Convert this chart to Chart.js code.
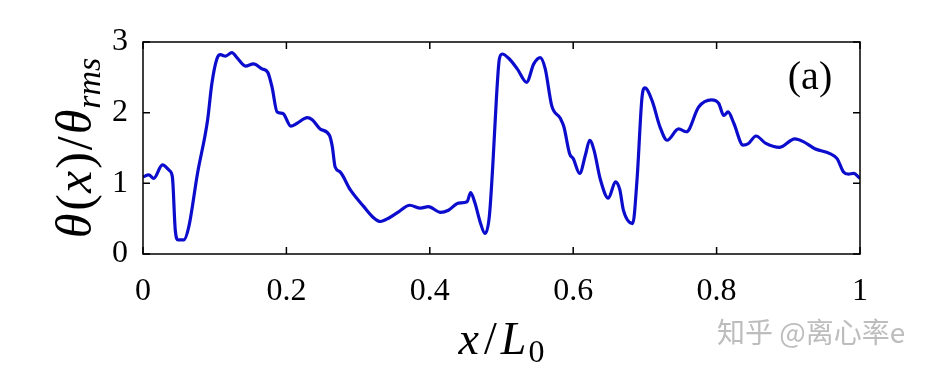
<!DOCTYPE html>
<html>
<head>
<meta charset="utf-8">
<script src="https://cdn.jsdelivr.net/npm/chart.js@4.4.1/dist/chart.umd.min.js"></script>
<style>
  html, body { margin: 0; padding: 0; background: #fff; }
  #wrap { width: 930px; height: 370px; }
</style>
</head>
<body>
<div id="wrap"><canvas id="thetaChart"></canvas></div>
<script>
// x/L0 positions and theta(x)/theta_rms values
const xPos = [
  0.000, 0.008, 0.015, 0.027, 0.037, 0.041, 0.045, 0.049, 0.057, 0.064,
  0.076, 0.090, 0.096, 0.103, 0.108, 0.115, 0.124, 0.131, 0.143, 0.154,
  0.166, 0.174, 0.180, 0.187, 0.195, 0.206, 0.215, 0.229, 0.236, 0.247,
  0.260, 0.264, 0.268, 0.275, 0.289, 0.308, 0.322, 0.331, 0.343, 0.357,
  0.372, 0.387, 0.398, 0.415, 0.426, 0.440, 0.452, 0.457, 0.463, 0.470,
  0.477, 0.483, 0.488, 0.493, 0.497, 0.501, 0.510, 0.522, 0.535, 0.545,
  0.554, 0.561, 0.570, 0.582, 0.587, 0.595, 0.600, 0.609, 0.617, 0.623,
  0.629, 0.638, 0.649, 0.659, 0.665, 0.670, 0.683, 0.689, 0.696, 0.700,
  0.710, 0.721, 0.731, 0.747, 0.758, 0.775, 0.793, 0.803, 0.810, 0.816,
  0.824, 0.837, 0.844, 0.855, 0.868, 0.888, 0.909, 0.921, 0.937, 0.958,
  0.968, 0.977, 0.984, 0.991, 1.000
];
const thetaRatio = [
  1.09, 1.12, 1.07, 1.26, 1.18, 1.09, 0.34, 0.20, 0.20, 0.39,
  1.14, 1.89, 2.41, 2.76, 2.82, 2.80, 2.85, 2.78, 2.66, 2.69,
  2.62, 2.57, 2.36, 2.01, 1.99, 1.81, 1.85, 1.93, 1.90, 1.77,
  1.68, 1.52, 1.23, 1.16, 0.91, 0.67, 0.51, 0.46, 0.51, 0.60,
  0.69, 0.65, 0.67, 0.59, 0.62, 0.72, 0.74, 0.87, 0.72, 0.46,
  0.29, 0.53, 1.28, 2.22, 2.76, 2.83, 2.77, 2.62, 2.43, 2.69,
  2.78, 2.62, 2.10, 1.92, 1.80, 1.42, 1.35, 1.14, 1.40, 1.61,
  1.47, 1.05, 0.79, 1.02, 0.91, 0.62, 0.43, 1.05, 2.22, 2.35,
  2.17, 1.80, 1.61, 1.77, 1.73, 2.08, 2.18, 2.13, 1.96, 2.01,
  1.85, 1.54, 1.56, 1.67, 1.57, 1.51, 1.63, 1.59, 1.49, 1.42,
  1.35, 1.16, 1.13, 1.14, 1.07
];
const xTicks = [0, 0.2, 0.4, 0.6, 0.8, 1];
const yTicks = [0, 1, 2, 3];
const panelLabel = "(a)";
const watermark = "知乎 @离心率e";

const SERIF = "'Liberation Serif', 'Times New Roman', serif";

// draw a run of text pieces [text, italic, size, dy, gap] starting at x
function drawRun(ctx, parts, x, y) {
  parts.forEach(p => {
    ctx.font = (p[1] ? "italic " : "") + p[2] + "px " + SERIF;
    ctx.fillText(p[0], x, y + (p[3] || 0));
    x += ctx.measureText(p[0]).width + (p[4] || 0);
  });
}
function runWidth(ctx, parts) {
  let w = 0;
  parts.forEach(p => {
    ctx.font = (p[1] ? "italic " : "") + p[2] + "px " + SERIF;
    w += ctx.measureText(p[0]).width + (p[4] || 0);
  });
  return w;
}

const framePlugin = {
  id: "frame",
  afterDraw(chart) {
    const ctx = chart.ctx;
    const a = chart.chartArea;
    const xs = chart.scales.x, ys = chart.scales.y;
    ctx.save();
    ctx.strokeStyle = "#000";
    ctx.lineWidth = 1.5;
    ctx.strokeRect(a.left, a.top, a.right - a.left, a.bottom - a.top);
    const tl = 7;
    ctx.beginPath();
    xTicks.forEach(v => {
      const px = xs.getPixelForValue(v);
      ctx.moveTo(px, a.bottom); ctx.lineTo(px, a.bottom - tl);
      ctx.moveTo(px, a.top); ctx.lineTo(px, a.top + tl);
    });
    yTicks.forEach(v => {
      const py = ys.getPixelForValue(v);
      ctx.moveTo(a.left, py); ctx.lineTo(a.left + tl, py);
      ctx.moveTo(a.right, py); ctx.lineTo(a.right - tl, py);
    });
    ctx.stroke();

    ctx.fillStyle = "#000";
    ctx.textBaseline = "alphabetic";
    ctx.textAlign = "left";

    // x axis title: x/L0
    const xt = [["x", true, 46, 0, 5], ["/", false, 46, 0, 4], ["L", true, 46, 0, 2], ["0", false, 32, 8]];
    const xw = runWidth(ctx, xt);
    drawRun(ctx, xt, (a.left + a.right) / 2 - xw / 2, 354);

    // y axis title: theta(x)/theta_rms, rotated
    const yt = [["θ", true, 50, 0, 3], ["(", false, 50, 0, 1], ["x", true, 50, 0, 2], [")", false, 50, 0, 2], ["/", false, 50, 0, 2], ["θ", true, 50, 0, 1], ["rms", true, 34, 9]];
    const yw = runWidth(ctx, yt);
    ctx.save();
    ctx.translate(91, 148);
    ctx.rotate(-Math.PI / 2);
    drawRun(ctx, yt, -yw / 2, 0);
    ctx.restore();

    // panel label
    ctx.font = "40px " + SERIF;
    ctx.textAlign = "center";
    ctx.textBaseline = "middle";
    ctx.fillText(panelLabel, 810, 78);

    // watermark
    ctx.font = "28px 'Noto Sans CJK SC', sans-serif";
    ctx.textAlign = "left";
    ctx.fillStyle = "#bdbdbd";
    ctx.fillText(watermark, 717, 332);
    ctx.restore();
  }
};

const ctx = document.getElementById("thetaChart").getContext("2d");
new Chart(ctx, {
  type: "line",
  data: {
    datasets: [{
      data: xPos.map((x, i) => ({ x: x, y: thetaRatio[i] })),
      borderColor: "rgb(12, 12, 205)",
      borderWidth: 3.2,
      pointRadius: 0,
      fill: false,
      cubicInterpolationMode: "monotone"
    }]
  },
  options: {
    responsive: true,
    maintainAspectRatio: false,
    animation: false,
    devicePixelRatio: 1,
    layout: { padding: { top: 42, right: 70, left: 0, bottom: 0 } },
    plugins: { legend: { display: false }, tooltip: { enabled: false } },
    scales: {
      x: {
        type: "linear",
        min: 0, max: 1,
        afterFit: s => { s.height = 116; },
        afterBuildTicks: s => { s.ticks = xTicks.map(v => ({ value: v })); },
        grid: { display: false, drawTicks: false },
        border: { display: false },
        ticks: {
          padding: 18,
          color: "#000",
          font: { family: SERIF, size: 32 },
          maxRotation: 0,
          callback: v => String(v)
        }
      },
      y: {
        min: 0, max: 3,
        afterFit: s => { s.width = 143; },
        afterBuildTicks: s => { s.ticks = yTicks.map(v => ({ value: v })); },
        grid: { display: false, drawTicks: false },
        border: { display: false },
        ticks: {
          padding: 15,
          color: "#000",
          font: { family: SERIF, size: 32 },
          callback: v => String(v)
        }
      }
    }
  },
  plugins: [framePlugin]
});
</script>
</body>
</html>
